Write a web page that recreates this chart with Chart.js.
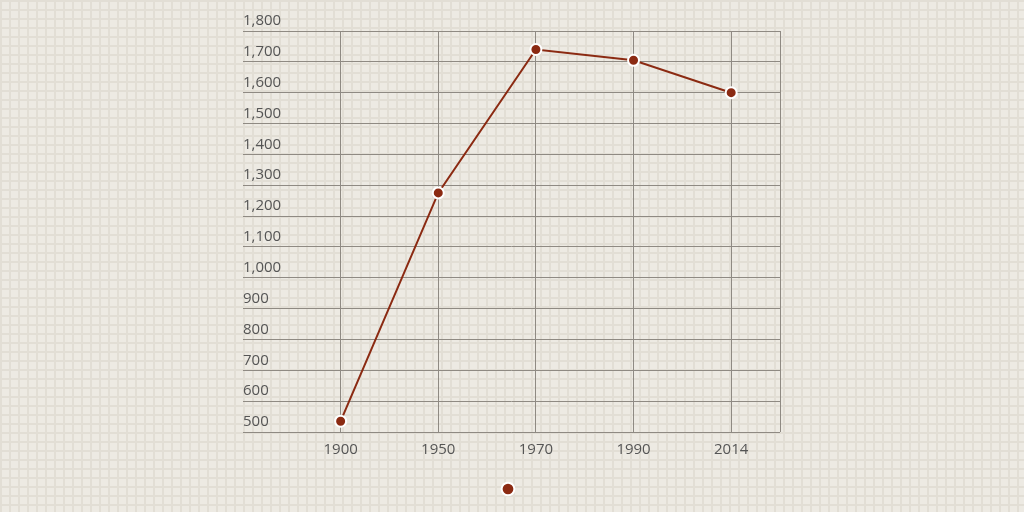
<!DOCTYPE html>
<html>
<head>
<meta charset="utf-8">
<script src="https://cdn.jsdelivr.net/npm/chart.js@4/dist/chart.umd.min.js"></script>
<style>
  html, body { margin: 0; padding: 0; }
  body {
    width: 1024px; height: 512px;
    background-color: #edeae3;
    background-image:
      linear-gradient(to right, #e2ded5 2px, transparent 2px),
      linear-gradient(to bottom, #e2ded5 2px, transparent 2px);
    background-size: 9px 9px;
  }
  canvas { display: block; }
</style>
</head>
<body>
<canvas id="grafica" width="1024" height="512"></canvas>
<script>
const years = ['1900', '1950', '1970', '1990', '2014'];
const values = [535, 1275, 1740, 1705, 1600];
const yTicks = [500, 1800, 100]; // min, max, step

const lineColor = '#8b2a12';
const gridColor = '#8f8a83';

const ctx = document.getElementById('grafica').getContext('2d');
new Chart(ctx, {
  type: 'line',
  data: {
    datasets: [{
      label: '',
      data: values.map((v, i) => ({ x: i, y: v })),
      borderColor: lineColor,
      backgroundColor: lineColor,
      pointBackgroundColor: lineColor,
      pointBorderColor: '#ffffff',
      pointBorderWidth: 2,
      pointRadius: 5.5,
      borderWidth: 2,
      tension: 0
    }]
  },
  options: {
    responsive: false,
    animation: false,
    layout: { padding: { left: 243, right: 244, top: 31, bottom: 6 } },
    plugins: {
      tooltip: { enabled: false },
      legend: {
        position: 'bottom',
        labels: {
          usePointStyle: true,
          pointStyle: 'circle',
          boxWidth: 18,
          boxHeight: 9,
          padding: 14,
          font: { family: 'Open Sans', size: 14 }
        }
      }
    },
    scales: {
      x: {
        type: 'linear',
        min: -1,
        max: 4.5,
        border: { display: false },
        grid: {
          drawTicks: false,
          color: c => (c.tick && c.tick.value >= 0) ? gridColor : 'rgba(0,0,0,0)',
          lineWidth: 1
        },
        ticks: {
          stepSize: 1,
          padding: 9,
          color: '#555',
          font: { family: 'Open Sans', size: 15 },
          callback: v => (v >= 0 && Number.isInteger(v)) ? years[v] : ''
        }
      },
      y: {
        min: yTicks[0],
        max: yTicks[1],
        border: { display: false },
        grid: { drawTicks: false, color: gridColor, lineWidth: 1 },
        ticks: {
          stepSize: yTicks[2],
          autoSkip: false,
          mirror: true,
          padding: 0,
          labelOffset: -10,
          color: '#555',
          font: { family: 'Open Sans', size: 15 },
          callback: v => v.toLocaleString('en-US')
        }
      }
    }
  }
});
</script>
</body>
</html>
